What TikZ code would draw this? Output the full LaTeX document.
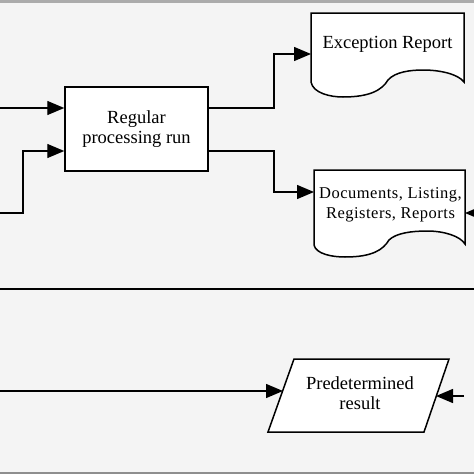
\documentclass[tikz,border=0pt]{standalone}
\usepackage{fontspec}
\setmainfont{Liberation Serif}
\usetikzlibrary{arrows.meta}
\definecolor{bg}{HTML}{F4F4F4}
\definecolor{bandtop}{HTML}{ABABAB}
\definecolor{bandbot}{HTML}{8E8E8E}
\begin{document}
\begin{tikzpicture}[x=1pt,y=-1pt,line width=1.4pt,
  conn/.style={-{Triangle[length=17pt,width=14pt]}},
  lbl/.style={font=\fontsize{18.5}{20}\selectfont,align=center,inner sep=0pt},
  shapeline/.style={draw=black,fill=white,line width=1.5pt}]
\useasboundingbox (0,0) rectangle (474,474);
\fill[bg] (0,0) rectangle (474,474);
\fill[bandtop] (0,0) rectangle (474,2.5);
\fill[bandbot] (0,471.5) rectangle (474,474);
% separator
\draw (0,289) -- (474,289);
% processing box
\node[shapeline,minimum width=143pt,minimum height=84pt,lbl,inner sep=0pt] (run) at (136.5,129) {Regular\\processing run};
% exception report document
\draw[shapeline] (311,13) -- (311,82) .. controls (313,93) and (330,97) .. (343,97)
  .. controls (370,97) and (382,90) .. (388,80) .. controls (395,72) and (410,70) .. (423,70)
  .. controls (440,70) and (458,74) .. (464,82) -- (464,13) -- cycle;
\node[lbl] (exc) at (387.5,44) {Exception Report};
\coordinate (excin) at (311,54);
% documents document
\draw[shapeline] (314,170) -- (314,245) .. controls (316,254) and (332,257) .. (345,257)
  .. controls (372,257) and (383,250) .. (389,240) .. controls (396,233) and (412,231) .. (427,231)
  .. controls (444,231) and (460,236) .. (465,244) -- (465,170) -- cycle;
\node[lbl,font=\fontsize{16.5}{20}\selectfont\addfontfeature{LetterSpace=3}] (docs) at (390.5,205) {Documents, Listing,\\Registers, Reports};
\coordinate (docsin) at (314,192);
\coordinate (docsright) at (465,213);
\coordinate (docsfeed) at (480,213);
% parallelogram
\draw[shapeline] (294,359) -- (449,359) -- (424,432) -- (268,432) -- cycle;
\node[lbl] (pred) at (360,393.5) {Predetermined\\result};
\coordinate (predin) at (283,391);
\coordinate (predright) at (436,396);
\coordinate (predfeed) at (464,396);
% inputs from left
\coordinate (inA) at (-5,108);
\coordinate (inB) at (-5,213);
\coordinate (inC) at (-5,391);
\draw[conn] (inA) -- (run.west |- inA);
\draw[conn] (inB) -- (23,213) -- (23,151) -- (run.west |- 0,151);
\draw[conn] (inC) -- (predin);
% outputs
\draw[conn] (run.east |- 0,108) -- (274,108) -- (274,54) -- (excin);
\draw[conn] (run.east |- 0,151) -- (274,151) -- (274,192) -- (docsin);
\draw[conn] (docsfeed) -- (docsright);
\draw[conn] (predfeed) -- (predright);
\end{tikzpicture}
\end{document}
